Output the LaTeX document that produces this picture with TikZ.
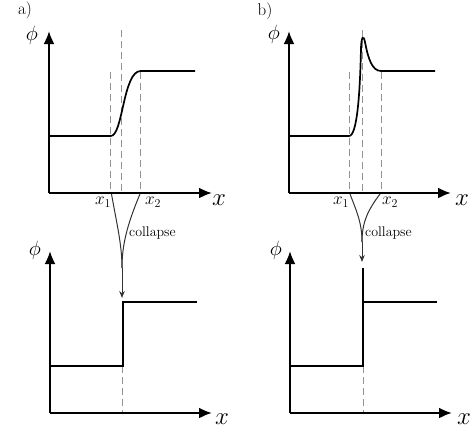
\documentclass[tikz,border=0pt]{standalone}
\usetikzlibrary{arrows.meta}
\begin{document}
\begin{tikzpicture}[x=1pt,y=-1pt,
  axis/.style={line width=2.2pt,-{Latex[length=13pt,width=11pt]}},
  curve/.style={line width=1.7pt},
  guide/.style={gray!85,line width=0.9pt,dash pattern=on 7pt off 4pt},
  funnel/.style={line width=1pt,black!80},
  funnelarrow/.style={line width=1pt,black!80,-{Stealth[length=7pt,width=5.5pt]}},
  biglbl/.style={inner sep=0pt,font=\fontsize{24}{26}\selectfont},
  phil/.style={inner sep=0pt,font=\fontsize{22}{24}\selectfont},
  sub/.style={inner sep=0pt,font=\fontsize{17}{19}\selectfont},
  panel/.style={inner sep=0pt,font=\fontsize{17}{19}\selectfont},
  coll/.style={inner sep=0pt,anchor=west,font=\fontsize{14}{16}\selectfont}]
\useasboundingbox (0,0) rectangle (474,440);

% ---------- panel a (top) ----------
\node[panel] (la) at (25,10) {a)};
\coordinate (ao) at (49,193);
\coordinate (ay) at (49,31);
\coordinate (ax) at (212,193);
\draw[guide] (110.7,72) -- (110.7,193);
\draw[guide] (121,30) -- (121,193);
\draw[guide] (140.7,72) -- (140.7,193);
\draw[axis] (ao) -- (ay);
\draw[axis] (ao) -- (ax);
\node[phil] (pa) at (32,35) {$\phi$};
\node[biglbl] (xa) at (219,200) {$x$};
\node[sub] (a1) at (103,202) {$x_1$};
\node[sub] (a2) at (153,202) {$x_2$};
\draw[curve] (49,136) -- (110.7,136) .. controls (123,136) and (123,71) .. (140.7,71) -- (195,71);

% collapse a
\coordinate (ca1) at (111.5,194);
\coordinate (ca2) at (140,194);
\coordinate (cam) at (122,268);
\coordinate (cat) at (122,298);
\draw[funnel] (ca1) .. controls (117,225) and (122,245) .. (cam);
\draw[funnel] (ca2) .. controls (127,225) and (122,245) .. (cam);
\draw[funnelarrow] (cam) -- (cat);
\node[coll] (cola) at (129,233) {collapse};

% ---------- panel a (bottom) ----------
\coordinate (bo) at (50,413);
\coordinate (by) at (50,251);
\coordinate (bx) at (212,413);
\draw[guide] (122.7,366) -- (122.7,413);
\draw[axis] (bo) -- (by);
\draw[axis] (bo) -- (bx);
\node[phil] (pb) at (35,250) {$\phi$};
\node[biglbl] (xb) at (222,419) {$x$};
\draw[curve] (50,366) -- (122.7,366) -- (122.7,302) -- (197,302);

% ---------- panel b (top) ----------
\node[panel] (lb) at (265,11) {b)};
\coordinate (co) at (289,193);
\coordinate (cy) at (289,31);
\coordinate (cx) at (451,193);
\draw[guide] (349,72) -- (349,193);
\draw[guide] (362,30) -- (362,193);
\draw[guide] (381,72) -- (381,193);
\draw[axis] (co) -- (cy);
\draw[axis] (co) -- (cx);
\node[phil] (pc) at (274,34) {$\phi$};
\node[biglbl] (xc) at (462,200) {$x$};
\node[sub] (c1) at (341,202) {$x_1$};
\node[sub] (c2) at (390,202) {$x_2$};
\draw[curve] (289,136) -- (349,136) .. controls (357,136) and (360,95) .. (361,48)
  .. controls (361.5,36) and (363.5,35) .. (365,42)
  .. controls (368,58) and (372,71) .. (381,71) -- (435,71);

% collapse b
\coordinate (cb1) at (350,194);
\coordinate (cb2) at (380,194);
\coordinate (cbm) at (362,242);
\coordinate (cbt) at (362,262);
\draw[funnel] (cb1) .. controls (356,210) and (362,222) .. (cbm);
\draw[funnel] (cb2) .. controls (368,210) and (362,222) .. (cbm);
\draw[funnelarrow] (cbm) -- (cbt);
\node[coll] (colb) at (365,233) {collapse};

% ---------- panel b (bottom) ----------
\coordinate (do) at (290,413);
\coordinate (dy) at (290,251);
\coordinate (dx) at (452,413);
\draw[guide] (363,366) -- (363,413);
\draw[axis] (do) -- (dy);
\draw[axis] (do) -- (dx);
\node[phil] (pd) at (276,250) {$\phi$};
\node[biglbl] (xd) at (464,419) {$x$};
\draw[curve] (290,366) -- (363,366) -- (363,268);
\draw[curve] (363,302) -- (437,302);
\end{tikzpicture}
\end{document}
